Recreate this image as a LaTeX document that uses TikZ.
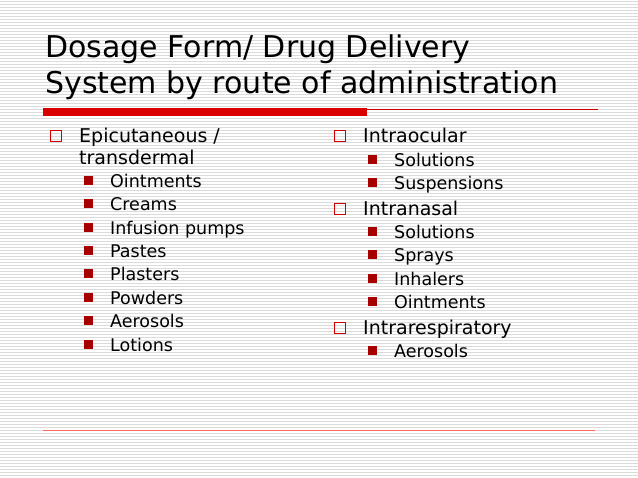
\documentclass[tikz,border=0pt]{standalone}
\usepackage{fontspec}
\setmainfont{DejaVu Sans}
\begin{document}
\begin{tikzpicture}[x=1pt,y=-1pt,
  ttl/.style={anchor=mid west,inner sep=0,font=\fontsize{30}{34}\selectfont},
  lone/.style={anchor=mid west,inner sep=0,yshift=-4pt,font=\fontsize{19}{22}\selectfont},
  ltwo/.style={anchor=mid west,inner sep=0,yshift=-4pt,font=\fontsize{17.5}{20}\selectfont},
  hbox/.style={draw=red!80!black,line width=1.3pt,minimum size=11pt,inner sep=0},
  fbox/.style={fill=red!65!black,minimum size=9pt,inner sep=0}]
\useasboundingbox (0,0) rectangle (638,478);
\fill[white] (0,0) rectangle (638,478);
\foreach \y in {1.5,4.5,...,478} \draw[black!14,line width=0.8pt] (0,\y) -- (638,\y);
\node[ttl] (t1) at (45,55) {Dosage Form/ Drug Delivery};
\node[ttl] (t2) at (45,91) {System by route of administration};
\fill[red!85!black] (43,108) rectangle (367,116);
\draw[red!80!black,line width=0.6pt] (367,109) -- (598,109);
\draw[red!60,line width=0.6pt] (43,430) -- (595,430);
% left column
\node[hbox] (b1) at (56,136) {};
\node[lone] (e1) at (79,136) {Epicutaneous /};
\node[lone] (e2) at (79,158) {transdermal};
\foreach \t/\y [count=\i] in {Ointments/181,Creams/204,Infusion pumps/228,Pastes/251,Plasters/274,Powders/298,Aerosols/321,Lotions/345}{
  \node[fbox] (lb\i) at (88,\y) {};
  \node[ltwo] (lt\i) at (110,\y) {\t};
}
% right column
\node[hbox] (r1) at (340,136) {};
\node[lone] (rt1) at (363,136) {Intraocular};
\node[hbox] (r2) at (340,209) {};
\node[lone] (rt2) at (363,209) {Intranasal};
\node[hbox] (r3) at (340,328) {};
\node[lone] (rt3) at (363,328) {Intrarespiratory};
\foreach \t/\y [count=\i] in {Solutions/160,Suspensions/183,Solutions/232,Sprays/255,Inhalers/279,Ointments/302,Aerosols/351}{
  \node[fbox] (rb\i) at (372,\y) {};
  \node[ltwo] (rl\i) at (394,\y) {\t};
}
\end{tikzpicture}
\end{document}
